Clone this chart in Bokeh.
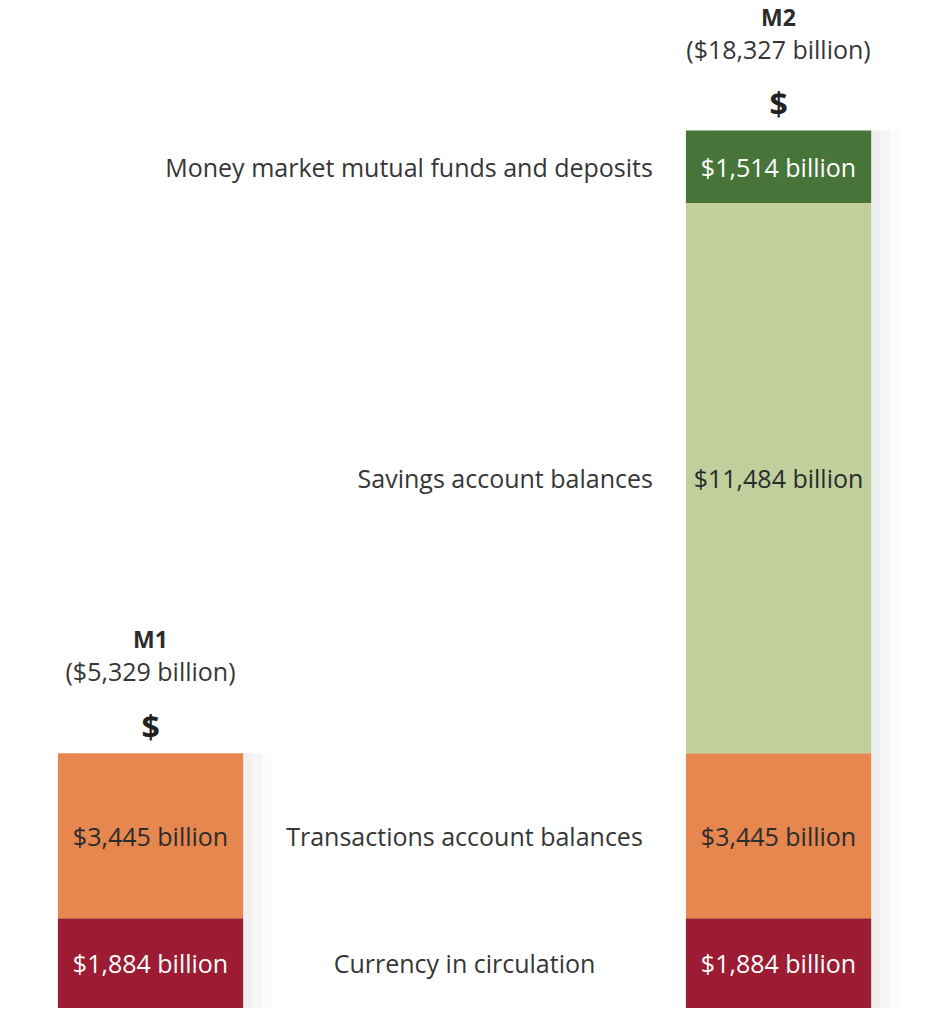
from bokeh.plotting import figure
from bokeh.models import Range1d, ColumnDataSource
from bokeh.core.properties import value
from bokeh.embed import file_html
from bokeh.resources import INLINE

# ---- data ----
aggregates = ["M1", "M2"]
aggregate_totals = [5329, 18327]
components = ["Currency in circulation", "Transactions account balances",
              "Savings account balances", "Money market mutual funds and deposits"]
m1_values = [1884, 3445, 0, 0]
m2_values = [1884, 3445, 11484, 1514]
component_colors = ["#9b1c33", "#e5874e", "#c1cf9d", "#467439"]
value_text_colors = ["#ffffff", "#2b2b2b", "#2b2b2b", "#ffffff"]

FONT = "Open Sans"
FS = "25px"
BAR_W = 0.295
xpos = {"M1": 0.0, "M2": 1.0}

p = figure(width=916, height=1008, output_backend="svg", toolbar_location=None,
           x_range=Range1d(-0.2389, 1.2197), y_range=Range1d(0, max(aggregate_totals) * 1.1481),
           min_border=0)
p.axis.visible = False
p.grid.visible = False
p.outline_line_color = None
p.background_fill_color = "white"

# segments
seg = dict(x=[], bottom=[], top=[], color=[], label=[], tcolor=[], mid=[])
for agg, vals in zip(aggregates, [m1_values, m2_values]):
    cum = 0
    for i, v in enumerate(vals):
        if v <= 0:
            continue
        seg["x"].append(xpos[agg])
        seg["bottom"].append(cum)
        seg["top"].append(cum + v)
        seg["mid"].append(cum + v / 2)
        seg["color"].append(component_colors[i])
        seg["label"].append("${:,} billion".format(v))
        seg["tcolor"].append(value_text_colors[i])
        cum += v
src = ColumnDataSource(seg)

# soft shadow
for k, a in [(0.045, 0.03), (0.03, 0.04), (0.015, 0.05)]:
    p.vbar(x=[xpos[a_] + k for a_ in aggregates], width=BAR_W, bottom=0, top=aggregate_totals,
           fill_color="#777777", fill_alpha=a, line_color=None)

p.vbar(x="x", width=BAR_W, bottom="bottom", top="top", fill_color="color",
       line_color=None, source=src)
p.text(x="x", y="mid", text="label", text_color="tcolor", text_align="center",
       text_baseline="middle", text_font=value(FONT), text_font_size=FS, source=src)

# component labels in the middle column (aligned to M2 segments)
cum = 0
for i, (name, v) in enumerate(zip(components, m2_values)):
    mid = cum + v / 2
    cum += v
    if i < 2:
        p.text(x=[0.5], y=[mid], text=[name], text_align="center", text_baseline="middle",
               text_color="#363636", text_font=value(FONT), text_font_size=FS)
    else:
        p.text(x=[1 - BAR_W / 2], y=[mid], text=[name], x_offset=-33, text_align="right",
               text_baseline="middle", text_color="#363636", text_font=value(FONT),
               text_font_size=FS)

# headers above each bar
for agg, tot in zip(aggregates, aggregate_totals):
    x = xpos[agg]
    p.text(x=[x], y=[tot], text=["$"], y_offset=-27, text_align="center", text_baseline="middle",
           text_color="#222222", text_font=value(FONT), text_font_size="32px", text_font_style="bold")
    p.text(x=[x], y=[tot], text=["(${:,} billion)".format(tot)], y_offset=-82, text_align="center",
           text_baseline="middle", text_color="#363636", text_font=value(FONT), text_font_size=FS)
    p.text(x=[x], y=[tot], text=[agg], y_offset=-114, text_align="center", text_baseline="middle",
           text_color="#2b2b2b", text_font=value(FONT), text_font_size="23px", text_font_style="bold")

open("out.html", "w").write(file_html(p, INLINE))
